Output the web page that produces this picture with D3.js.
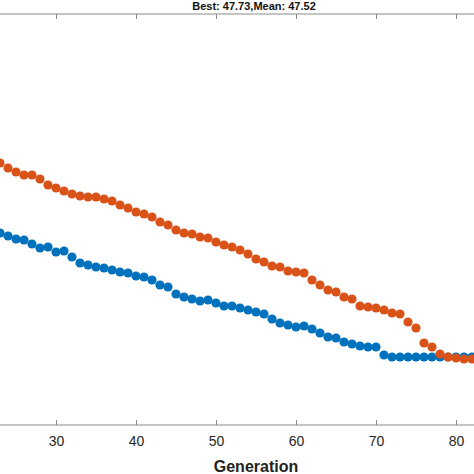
<!DOCTYPE html>
<html><head><meta charset="utf-8">
<script src="https://cdn.jsdelivr.net/npm/d3@7"></script>
<style>body{margin:0;background:#fff}svg{display:block}</style>
</head><body>
<script>
const startGen = 23;
const bestVals = [50.24,50.18,50.12,50.10,50.02,49.94,49.96,49.86,49.88,49.76,49.64,49.60,49.56,49.54,49.50,49.46,49.44,49.38,49.36,49.30,49.20,49.16,49.02,48.96,48.92,48.88,48.90,48.84,48.78,48.78,48.74,48.70,48.66,48.62,48.52,48.44,48.40,48.36,48.38,48.32,48.24,48.16,48.14,48.06,48.02,47.98,47.96,47.96,47.80,47.76,47.76,47.76,47.76,47.76,47.76,47.76,47.76,47.76,47.76,47.76];
const meanVals = [51.64,51.54,51.46,51.40,51.40,51.32,51.20,51.14,51.08,51.02,50.98,50.96,50.96,50.92,50.88,50.80,50.74,50.66,50.62,50.56,50.46,50.40,50.30,50.24,50.22,50.16,50.14,50.06,50.00,49.96,49.90,49.82,49.72,49.66,49.58,49.56,49.48,49.46,49.44,49.30,49.20,49.10,49.06,48.96,48.92,48.78,48.76,48.74,48.70,48.64,48.62,48.46,48.34,48.04,47.96,47.82,47.76,47.74,47.72,47.72];
const xTicks = [30,40,50,60,70,80];
const title = "Best: 47.73,Mean: 47.52";

const W=474,H=474, yTop=14, yBot=425;
const svg=d3.select("body").append("svg").attr("width",W).attr("height",H);
const x=d3.scaleLinear().domain([23,84]).range([0,488]);
const y=d3.scaleLinear().domain([46.4,54.62]).range([yBot,yTop]);
const ax="#8a8a8a";
svg.append("line").attr("x1",0).attr("x2",W).attr("y1",yTop).attr("y2",yTop).attr("stroke",ax);
svg.append("line").attr("x1",0).attr("x2",W).attr("y1",yBot).attr("y2",yBot).attr("stroke",ax);
const gb=svg.append("g").attr("transform",`translate(0,${yBot})`)
  .call(d3.axisBottom(x).tickValues(xTicks).tickSizeInner(-5).tickSizeOuter(0).tickPadding(11));
gb.select(".domain").remove();
gb.selectAll("line").attr("stroke",ax);
gb.selectAll("text").attr("font-family","Liberation Sans, Arial").attr("font-size",14).attr("fill","#262626");
const gt=svg.append("g").attr("transform",`translate(0,${yTop})`)
  .call(d3.axisTop(x).tickValues(xTicks).tickSizeInner(-5).tickSizeOuter(0).tickFormat(""));
gt.select(".domain").remove();
gt.selectAll("line").attr("stroke",ax);
svg.append("text").attr("x",256).attr("y",472).attr("text-anchor","middle")
  .attr("font-family","Liberation Sans, Arial").attr("font-weight","bold").attr("font-size",16).attr("fill","#222").text("Generation");
svg.append("text").attr("x",254).attr("y",10).attr("text-anchor","middle")
  .attr("font-family","Liberation Sans, Arial").attr("font-weight","bold").attr("font-size",11).attr("fill","#111").text(title);
const draw=(vals,c)=>svg.append("g").selectAll("circle").data(vals).join("circle")
  .attr("cx",(d,i)=>x(startGen+i)).attr("cy",d=>y(d)).attr("r",4.6).attr("fill",c);
draw(bestVals,"#0072BD");
draw(meanVals,"#D95319");
</script>
</body></html>
